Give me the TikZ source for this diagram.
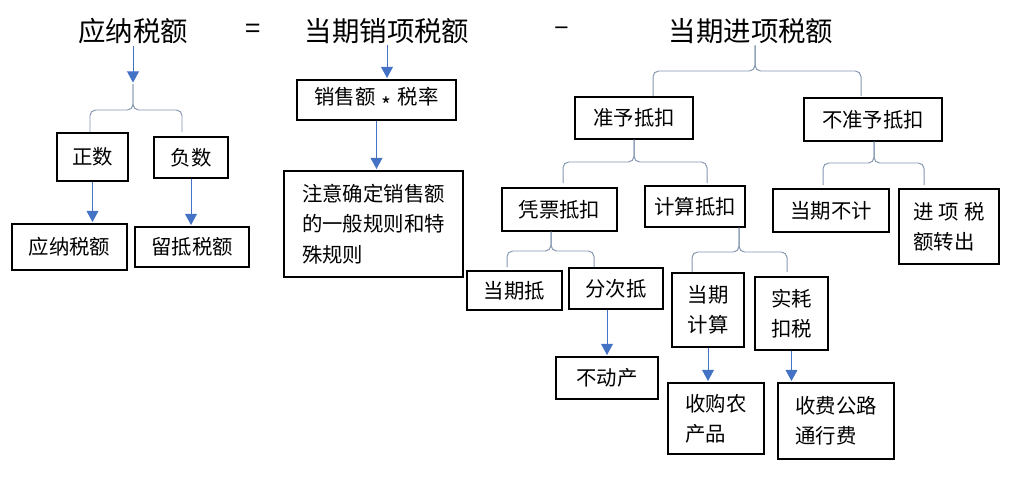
\documentclass[tikz,border=0pt]{standalone}
\usepackage{fontspec}
\setmainfont{Noto Sans CJK SC}
\usetikzlibrary{arrows.meta}
\definecolor{arrowblue}{HTML}{4472C4}
\definecolor{bracegray}{HTML}{8497B0}
\begin{document}
\begin{tikzpicture}[x=0.025cm,y=-0.025cm,
    title/.style={font=\fontsize{19.5}{23}\selectfont, inner sep=1pt},
    box/.style={draw, line width=0.8pt, inner sep=0pt, align=center,
      font=\fontsize{14.5}{21.5}\selectfont},
    arr/.style={arrowblue, line width=0.7pt, shorten >=1pt,
      -{Triangle[width=8.5pt,length=8pt]}},
    brace/.style={bracegray, line width=0.7pt, rounded corners=4pt}]
          \useasboundingbox (0,0) rectangle (1031,494);
          \node [title] (yingna) at (133,31) {应纳税额};
          \node [title] (equal) at (253,31) {=};
          \node [title] (xiao) at (387,31) {当期销项税额};
          \node [title] (minus) at (562,31) {–};
          \node [title] (jin) at (751,31) {当期进项税额};
          \node [box, minimum width=1.775cm, minimum height=1.2cm] (zheng) at (92.5,157) {正数};
          \node [box, minimum width=1.85cm, minimum height=1.025cm] (fu) at (191,157.5) {负数};
          \node [box, minimum width=2.875cm, minimum height=1.15cm] (ynse) at (69.5,247) {应纳税额};
          \node [box, minimum width=2.85cm, minimum height=1cm] (liudi) at (192,247) {留抵税额};
          \node [box, minimum width=3.975cm, minimum height=1cm] (shuilv) at (376.5,100)
            {销售额\hspace{0.3em}\raisebox{-0.8ex}{\fontsize{15}{15}\selectfont *}\hspace{0.3em}税率};
          \node [box, minimum width=4.475cm, minimum height=2.65cm, align=left] (guize) at (373.5,224)
            {注意确定销售额\\的一般规则和特\\殊规则};
          \node [box, minimum width=2.95cm, minimum height=1.05cm] (zhunyu) at (634,118) {准予抵扣};
          \node [box, minimum width=3.45cm, minimum height=1.075cm] (buzhun) at (873,119.5) {不准予抵扣};
          \node [box, minimum width=2.875cm, minimum height=1.075cm] (pingpiao) at (559.5,209.5) {凭票抵扣};
          \node [box, minimum width=2.5cm, minimum height=1.025cm] (jisuan) at (695,206.5) {计算抵扣};
          \node [box, minimum width=2.9cm, minimum height=1.075cm] (buji) at (831,210.5) {当期不计};
          \node [box, minimum width=2.5cm, minimum height=1.875cm, align=left] (zhuanchu) at (949,226.5)
            {进\hspace{0.25em}项\hspace{0.25em}税\\额转出};
          \node [box, minimum width=2.375cm, minimum height=0.975cm] (dangdi) at (514.5,290.5) {当期抵};
          \node [box, minimum width=2.35cm, minimum height=1.025cm] (fenci) at (616,288.5) {分次抵};
          \node [box, minimum width=2.55cm, minimum height=1.05cm] (budong) at (607,378) {不动产};
          \node [box, minimum width=1.8cm, minimum height=1.85cm] (dangji) at (708,310) {当期\\计算};
          \node [box, minimum width=1.825cm, minimum height=1.825cm] (shihao) at (791.5,313.5) {实耗\\扣税};
          \node [box, minimum width=2.4cm, minimum height=1.775cm, align=left] (nongchan) at (716,418.5)
            {收购农\\产品};
          \node [box, minimum width=2.9cm, minimum height=1.9cm, align=left] (gonglu) at (836,421)
            {收费公路\\通行费};
          \coordinate (yntip) at (133,84);
          \draw [arr] (yingna.south) -- (yntip);
          \draw [arr] (xiao.south) -- (xiao.south |- shuilv.north);
          \draw [arr] (shuilv.south) -- (shuilv.south |- guize.north);
          \draw [arr] (zheng.south) -- (zheng.south |- ynse.north);
          \draw [arr] (fu.south) -- (fu.south |- liudi.north);
          \draw [arr] (fenci.south -| budong.north) -- (budong.north);
          \draw [arr] (dangji.south) -- (dangji.south |- nongchan.north);
          \draw [arr] (shihao.south) -- (shihao.south |- gonglu.north);
          \coordinate (lv1) at (133,110);
          \coordinate (f1a) at (90,132);
          \coordinate (f1b) at (182,132);
          \draw [brace] (f1a) |- (lv1) -- (yntip);
          \draw [brace] (f1b) |- (lv1) -- (yntip);
          \coordinate (lv2) at (755,71);
          \coordinate (f2a) at (653,96);
          \coordinate (f2b) at (861,96);
          \draw [brace] (f2a) |- (lv2) -- (jin.south -| lv2);
          \draw [brace] (f2b) |- (lv2) -- (jin.south -| lv2);
          \coordinate (lv3) at (634,162);
          \coordinate (f3a) at (563,183);
          \coordinate (f3b) at (707,183);
          \draw [brace] (f3a) |- (lv3) -- (zhunyu.south -| lv3);
          \draw [brace] (f3b) |- (lv3) -- (zhunyu.south -| lv3);
          \coordinate (lv4) at (874,163);
          \coordinate (f4a) at (823,185);
          \coordinate (f4b) at (924,185);
          \draw [brace] (f4a) |- (lv4) -- (buzhun.south -| lv4);
          \draw [brace] (f4b) |- (lv4) -- (buzhun.south -| lv4);
          \coordinate (lv5) at (551,251);
          \coordinate (f5a) at (507,267);
          \coordinate (f5b) at (594,267);
          \draw [brace] (f5a) |- (lv5) -- (pingpiao.south -| lv5);
          \draw [brace] (f5b) |- (lv5) -- (pingpiao.south -| lv5);
          \coordinate (lv6) at (739,252);
          \coordinate (f6a) at (692,272);
          \coordinate (f6b) at (787,272);
          \draw [brace] (f6a) |- (lv6) -- (jisuan.south -| lv6);
          \draw [brace] (f6b) |- (lv6) -- (jisuan.south -| lv6);
        \end{tikzpicture}
\end{document}
